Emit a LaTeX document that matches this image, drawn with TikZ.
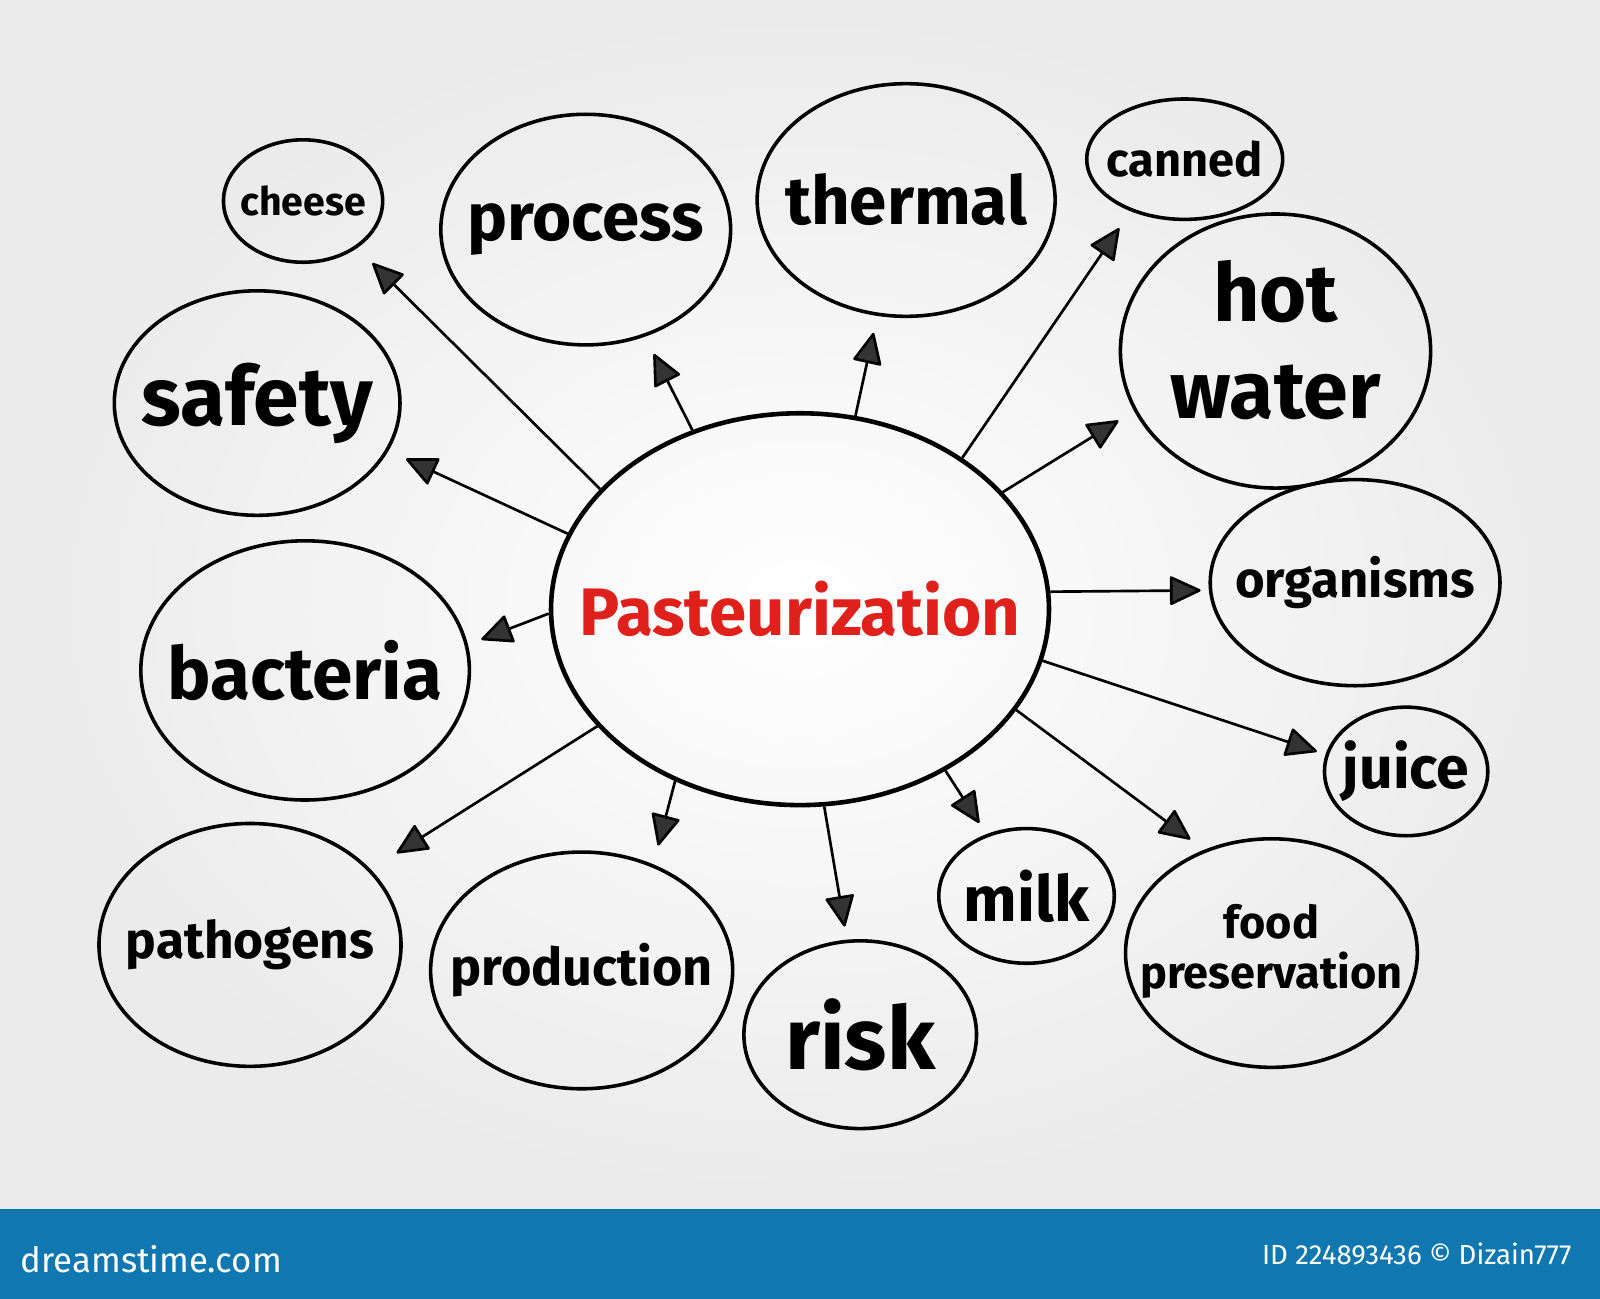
\documentclass[tikz,border=0pt]{standalone}
\usepackage{fontspec}
\setmainfont{Fira Sans}
\usetikzlibrary{arrows.meta,shapes.geometric}
\definecolor{pzred}{HTML}{E0201B}
\definecolor{barblue}{HTML}{1077B0}
\tikzset{
  bubble/.style={draw, ellipse, line width=3.5pt, inner sep=0pt},
  spoke/.style={line width=2.6pt, -{Triangle[length=32pt,width=29pt,fill=black!80,line join=round]}},
}
% label scaled to a given width, not counted in the bubble size
\newcommand{\lbl}[2]{\makebox[0pt]{\resizebox{#1pt}{!}{\bfseries #2}}}
\begin{document}
\begin{tikzpicture}[x=1pt,y=-1pt]
\useasboundingbox (0,0) rectangle (1568,1273);
\shade[inner color=white, outer color=black!8] (0,0) rectangle (1568,1185);

\node[bubble, minimum width=488pt, minimum height=384pt, line width=4.5pt] (pz) at (784,597) {\color{pzred}\lbl{432}{Pasteurization}};

\node[bubble, minimum width=156pt, minimum height=120pt] (cheese) at (297,197) {\lbl{123}{cheese}};
\node[bubble, minimum width=284pt, minimum height=226pt] (process) at (574,225) {\lbl{232}{process}};
\node[bubble, minimum width=292pt, minimum height=228pt] (thermal) at (888,196) {\lbl{237}{thermal}};
\node[bubble, minimum width=192pt, minimum height=118pt] (canned) at (1161,156) {\lbl{153}{canned}};
\node[bubble, minimum width=304pt, minimum height=216pt] (hotwater) at (1250,344) {\lbl{206}{\begin{tabular}{@{}c@{}}hot\\water\end{tabular}}};
\node[bubble, minimum width=280pt, minimum height=220pt] (safety) at (252,395) {\lbl{227}{safety}};
\node[bubble, minimum width=284pt, minimum height=202pt] (organisms) at (1328,571) {\lbl{235}{organisms}};
\node[bubble, minimum width=322pt, minimum height=254pt] (bacteria) at (299,657) {\lbl{269}{bacteria}};
\node[bubble, minimum width=160pt, minimum height=126pt] (juice) at (1378,756) {\lbl{124}{juice}};
\node[bubble, minimum width=296pt, minimum height=238pt] (pathogens) at (245,926) {\lbl{243}{pathogens}};
\node[bubble, minimum width=296pt, minimum height=232pt] (production) at (570,951) {\lbl{257}{production}};
\node[bubble, minimum width=228pt, minimum height=184pt] (risk) at (843,1014) {\lbl{147}{risk}};
\node[bubble, minimum width=172pt, minimum height=132pt] (milk) at (1006,878) {\lbl{123}{milk}};
\node[bubble, minimum width=286pt, minimum height=224pt] (foodpres) at (1246,934) {\lbl{257}{\renewcommand\arraystretch{0.8}\begin{tabular}{@{}c@{}}food\\preservation\end{tabular}}};

\foreach \a/\n/\b/\g in {149/cheese/319.5/21, 121/process/299.5/19, 74/thermal/256.5/17,
  43.4/canned/224.1/20, 30.6/hotwater/203.2/18, 162.7/safety/340.3/19,
  4.6/organisms/183.4/8, 181.9/bacteria/9.6/14, 348.4/juice/168.2/9,
  210.4/pathogens/32.8/30, 234.5/production/56.8/19, 277.1/risk/98.2/13,
  312.2/milk/123.3/13, 335.3/foodpres/123/17}
  \draw[spoke, shorten >=\g pt] (pz.\a) -- (\n.\b);

\begin{scope}
\fill[barblue] (0,1185) rectangle (1568,1273);
\node[white, anchor=west, inner sep=0pt] (brand) at (20,1234) {\resizebox{256pt}{!}{dreamstime.com}};
\node[white, anchor=east, inner sep=0pt] (stockid) at (1540,1229) {\resizebox{303pt}{!}{ID 224893436 © Dizain777}};
\end{scope}

\end{tikzpicture}
\end{document}
